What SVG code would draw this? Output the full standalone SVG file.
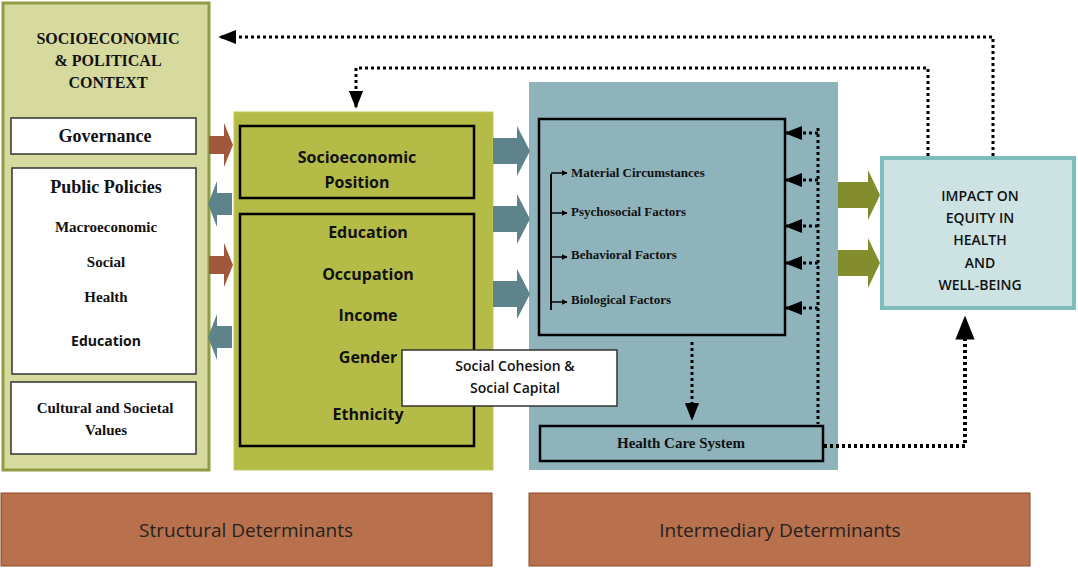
<svg xmlns="http://www.w3.org/2000/svg" width="1078" height="568" viewBox="0 0 1078 568">
<style>
.s{font-family:"Liberation Serif",serif;font-weight:bold;fill:#111;text-anchor:middle}
.c{font-family:"Open Sans","Liberation Sans",sans-serif;font-weight:bold;fill:#111;text-anchor:middle}
.w{fill:#fff;stroke:#333;stroke-width:1.5}
.blk{stroke:#000;stroke-width:2.5}
.dot{fill:none;stroke:#000;stroke-width:4;stroke-dasharray:3 3}
.dot2{fill:none;stroke:#000;stroke-width:3;stroke-dasharray:3 3}
</style>
<defs>
<marker id="ah" viewBox="0 0 10 10" refX="9" refY="5" markerWidth="4" markerHeight="4" orient="auto"><path d="M0,0L10,5L0,10z" fill="#000"/></marker>
<marker id="sa" viewBox="0 0 10 10" refX="9" refY="5" markerWidth="6" markerHeight="6" orient="auto"><path d="M0,1L10,5L0,9z" fill="#000"/></marker>
</defs>
<rect width="1078" height="568" fill="#fff"/>
<g id="context">
<rect x="3" y="3" width="206" height="467" fill="#d6da9e" stroke="#8f9c43" stroke-width="3"/>
<text class="s" font-size="16"><tspan x="108" y="44">SOCIOECONOMIC</tspan><tspan x="108" y="66">&amp; POLITICAL</tspan><tspan x="108" y="88">CONTEXT</tspan></text>
</g>
<g id="governance"><rect class="w" x="11" y="118" width="185" height="36"/><text class="s" x="105" y="142" font-size="18">Governance</text></g>
<g id="policies"><rect class="w" x="12" y="168" width="184" height="206"/>
<text class="s" x="106" y="193" font-size="18">Public Policies</text>
<text class="s" x="106" y="232" font-size="15">Macroeconomic</text>
<text class="s" x="106" y="267" font-size="15">Social</text>
<text class="s" x="106" y="302" font-size="15">Health</text>
<text class="c" x="106" y="346" font-size="14">Education</text></g>
<g id="values"><rect class="w" x="11" y="382" width="185" height="72"/><text class="s" font-size="15"><tspan x="105" y="413">Cultural and Societal</tspan><tspan x="106" y="435">Values</tspan></text></g>
<g id="structural">
<rect x="234" y="112" width="259" height="358" fill="#b4bb46" stroke="#c3c85e"/>
</g>
<g id="sep"><rect class="blk" x="240" y="126" width="234" height="72" fill="#b4bb46"/><text class="c" font-size="16"><tspan x="357" y="163">Socioeconomic</tspan><tspan x="357" y="188">Position</tspan></text></g>
<g id="strat"><rect class="blk" x="240" y="214" width="234" height="232" fill="#b4bb46"/>
<text class="c" font-size="16"><tspan x="368" y="238">Education</tspan><tspan x="368" y="280">Occupation</tspan><tspan x="368" y="321">Income</tspan><tspan x="368" y="363">Gender</tspan><tspan x="368" y="420">Ethnicity</tspan></text></g>
<g id="intermediary"><rect x="529" y="82" width="309" height="388" fill="#8fb3bb"/></g>
<g id="factors"><rect class="blk" x="539" y="119" width="246" height="216" fill="#8fb3bb" stroke-width="2.5"/>
<text class="s" font-size="13" text-anchor="start" style="text-anchor:start"><tspan x="571" y="177">Material Circumstances</tspan><tspan x="571" y="216">Psychosocial Factors</tspan><tspan x="571" y="259">Behavioral Factors</tspan><tspan x="571" y="304">Biological Factors</tspan></text></g>
<g id="healthcare"><rect class="blk" x="540" y="426" width="283" height="35" fill="#8fb3bb"/><text class="s" x="681" y="448" font-size="15">Health Care System</text></g>
<g id="cohesion"><rect class="w" x="402" y="350" width="215" height="56"/><text class="c" font-size="14" font-weight="normal" style="font-weight:600"><tspan x="515" y="371">Social Cohesion &amp;</tspan><tspan x="515" y="393">Social Capital</tspan></text></g>
<g id="impact"><rect x="882" y="158" width="192" height="150" fill="#cde3e3" stroke="#7fbdbd" stroke-width="4"/>
<text class="c" font-size="14" style="font-weight:600"><tspan x="980" y="201">IMPACT ON</tspan><tspan x="980" y="223">EQUITY IN</tspan><tspan x="980" y="245">HEALTH</tspan><tspan x="980" y="268">AND</tspan><tspan x="980" y="290">WELL-BEING</tspan></text></g>
<g id="bar1"><rect x="1" y="493" width="491" height="73" fill="#b8714c" stroke="#8a4b2b"/><text x="246" y="537" font-family="Open Sans,Liberation Sans,sans-serif" font-size="19" text-anchor="middle" fill="#222">Structural Determinants</text></g>
<g id="bar2"><rect x="529" y="493" width="501" height="73" fill="#b8714c" stroke="#8a4b2b"/><text x="780" y="537" font-family="Open Sans,Liberation Sans,sans-serif" font-size="19" text-anchor="middle" fill="#222">Intermediary Determinants</text></g>
<g id="connectors">
<path d="M209,136h15v-13l9,22-9,22v-13h-15z" fill="#a0573b"/>
<path d="M209,256h15v-13l9,22-9,22v-13h-15z" fill="#a0573b"/>
<path d="M232,193h-15v-12l-9,23 9,23v-12h15z" fill="#5e838b"/>
<path d="M232,326h-15v-12l-9,23 9,23v-12h15z" fill="#5e838b"/>
<path d="M493,138h24v-12l13,25-13,25v-12h-24z" fill="#5e838b"/>
<path d="M493,206h24v-12l13,25-13,25v-12h-24z" fill="#5e838b"/>
<path d="M493,281h24v-12l13,25-13,25v-12h-24z" fill="#5e838b"/>
<path d="M838,182h30v-12l12,25-12,25v-12h-30z" fill="#848d2e"/>
<path d="M838,250h30v-12l12,25-12,25v-12h-30z" fill="#848d2e"/>
<path d="M551,174V310" stroke="#000" stroke-width="2"/>
<g stroke="#000" stroke-width="1.5" marker-end="url(#ah)"><path d="M551,173h16"/><path d="M551,213h16"/><path d="M551,257h16"/><path d="M551,302h16"/></g>
<path class="dot2" d="M818,128V424"/>
<g class="dot2" marker-end="url(#sa)"><path d="M818,133H786"/><path d="M818,180H786"/><path d="M818,226H786"/><path d="M818,263H786"/><path d="M818,308H786"/></g>
<path class="dot2" d="M692,342V419" marker-end="url(#sa)"/>
<path class="dot" d="M824,446H965V318" marker-end="url(#sa)"/>
<path class="dot2" d="M993,156V37H220" marker-end="url(#sa)"/>
<path class="dot2" d="M928,156V68H356V107" marker-end="url(#sa)"/>
</g>
</svg>
